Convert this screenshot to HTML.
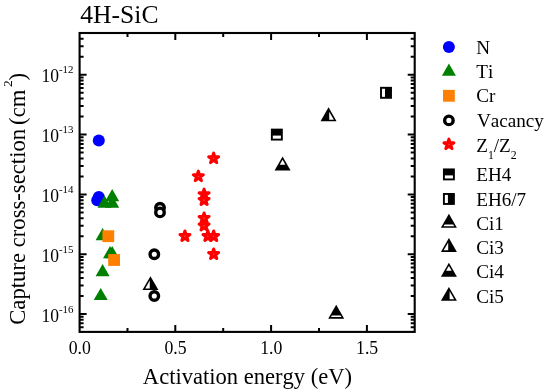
<!DOCTYPE html>
<html><head><meta charset="utf-8"><title>4H-SiC</title>
<style>
html,body{margin:0;padding:0;background:#fff;}
svg{display:block;font-family:"Liberation Serif","Times New Roman",serif;font-kerning:none;fill:#000;}
</style></head><body>
<svg width="550" height="392" viewBox="0 0 550 392">
<rect width="550" height="392" fill="#fff"/>
<rect x="79.6" y="33.0" width="335.1" height="298.9" fill="none" stroke="#000" stroke-width="2.1"/>
<path d="M127.5 331.9v-4M127.5 33.0v4M175.3 331.9v-7M175.3 33.0v7M223.2 331.9v-4M223.2 33.0v4M271.1 331.9v-7M271.1 33.0v7M319.0 331.9v-4M319.0 33.0v4M366.9 331.9v-7M366.9 33.0v7M79.6 327.3h4M414.7 327.3h-4M79.6 323.3h4M414.7 323.3h-4M79.6 319.8h4M414.7 319.8h-4M79.6 316.7h4M414.7 316.7h-4M79.6 314.0h7M414.7 314.0h-7M79.6 296.0h4M414.7 296.0h-4M79.6 285.5h4M414.7 285.5h-4M79.6 278.0h4M414.7 278.0h-4M79.6 272.2h4M414.7 272.2h-4M79.6 267.5h4M414.7 267.5h-4M79.6 263.5h4M414.7 263.5h-4M79.6 260.0h4M414.7 260.0h-4M79.6 256.9h4M414.7 256.9h-4M79.6 254.2h7M414.7 254.2h-7M79.6 236.2h4M414.7 236.2h-4M79.6 225.7h4M414.7 225.7h-4M79.6 218.2h4M414.7 218.2h-4M79.6 212.4h4M414.7 212.4h-4M79.6 207.7h4M414.7 207.7h-4M79.6 203.7h4M414.7 203.7h-4M79.6 200.2h4M414.7 200.2h-4M79.6 197.1h4M414.7 197.1h-4M79.6 194.4h7M414.7 194.4h-7M79.6 176.4h4M414.7 176.4h-4M79.6 165.9h4M414.7 165.9h-4M79.6 158.4h4M414.7 158.4h-4M79.6 152.6h4M414.7 152.6h-4M79.6 147.9h4M414.7 147.9h-4M79.6 143.9h4M414.7 143.9h-4M79.6 140.4h4M414.7 140.4h-4M79.6 137.3h4M414.7 137.3h-4M79.6 134.6h7M414.7 134.6h-7M79.6 116.6h4M414.7 116.6h-4M79.6 106.1h4M414.7 106.1h-4M79.6 98.6h4M414.7 98.6h-4M79.6 92.8h4M414.7 92.8h-4M79.6 88.1h4M414.7 88.1h-4M79.6 84.1h4M414.7 84.1h-4M79.6 80.6h4M414.7 80.6h-4M79.6 77.5h4M414.7 77.5h-4M79.6 74.8h7M414.7 74.8h-7M79.6 56.8h4M414.7 56.8h-4M79.6 46.3h4M414.7 46.3h-4M79.6 38.8h4M414.7 38.8h-4" stroke="#000" stroke-width="2" fill="none"/>
<text x="79.8" y="354" font-size="19.4" text-anchor="middle" textLength="22.2" lengthAdjust="spacingAndGlyphs">0.0</text>
<text x="175.5" y="354" font-size="19.4" text-anchor="middle" textLength="22.2" lengthAdjust="spacingAndGlyphs">0.5</text>
<text x="271.3" y="354" font-size="19.4" text-anchor="middle" textLength="22.2" lengthAdjust="spacingAndGlyphs">1.0</text>
<text x="367.1" y="354" font-size="19.4" text-anchor="middle" textLength="22.2" lengthAdjust="spacingAndGlyphs">1.5</text>
<text x="41.5" y="82.3" font-size="19.4" textLength="17.5" lengthAdjust="spacingAndGlyphs">10</text>
<text x="58.9" y="73.3" font-size="10.9">-12</text>
<text x="41.5" y="142.2" font-size="19.4" textLength="17.5" lengthAdjust="spacingAndGlyphs">10</text>
<text x="58.9" y="133.2" font-size="10.9">-13</text>
<text x="41.5" y="201.9" font-size="19.4" textLength="17.5" lengthAdjust="spacingAndGlyphs">10</text>
<text x="58.9" y="192.9" font-size="10.9">-14</text>
<text x="41.5" y="261.8" font-size="19.4" textLength="17.5" lengthAdjust="spacingAndGlyphs">10</text>
<text x="58.9" y="252.8" font-size="10.9">-15</text>
<text x="41.5" y="321.6" font-size="19.4" textLength="17.5" lengthAdjust="spacingAndGlyphs">10</text>
<text x="58.9" y="312.6" font-size="10.9">-16</text>
<text x="80.3" y="22.6" font-size="24.4" textLength="78.2" lengthAdjust="spacingAndGlyphs">4H-SiC</text>
<text x="247.4" y="383.6" font-size="22.55" text-anchor="middle">Activation energy (eV)</text>
<g transform="translate(24.7 199.3) rotate(-90)"><text x="-125.5" y="0" font-size="22.7">Capture cross-section</text>
<text x="74.4" y="0" font-size="22.7">(cm</text>
<text x="112.4" y="-12.5" font-size="13.5">2</text>
<text x="118.8" y="0" font-size="22.7">)</text>
</g>
<circle cx="98.8" cy="140.4" r="6" fill="#0000ff"/>
<circle cx="97.2" cy="200.2" r="6" fill="#0000ff"/>
<circle cx="98.8" cy="197.1" r="6" fill="#0000ff"/>
<path d="M112.2 189.0L119.2 201.2H105.2Z" fill="#008000"/>
<path d="M104.5 195.5L111.5 207.7H97.5Z" fill="#008000"/>
<path d="M112.2 195.5L119.2 207.7H105.2Z" fill="#008000"/>
<path d="M102.6 228.1L109.6 240.3H95.6Z" fill="#008000"/>
<path d="M110.0 246.1L117.0 258.3H103.0Z" fill="#008000"/>
<path d="M112.2 246.1L119.2 258.3H105.2Z" fill="#008000"/>
<path d="M102.6 264.1L109.6 276.3H95.6Z" fill="#008000"/>
<path d="M100.7 287.9L107.7 300.1H93.7Z" fill="#008000"/>
<rect x="102.4" y="230.3" width="11.8" height="11.8" fill="#ff8000"/>
<rect x="108.2" y="254.1" width="11.8" height="11.8" fill="#ff8000"/>
<path d="M150.45 276.20L158.45 290.10H142.45Z" fill="#000"/><path d="M149.75 280.62V288.50H145.22Z" fill="#fff"/>
<circle cx="160.0" cy="207.7" r="4.25" fill="#fff" stroke="#000" stroke-width="3.4"/>
<circle cx="160.0" cy="212.4" r="4.25" fill="#fff" stroke="#000" stroke-width="3.4"/>
<circle cx="154.3" cy="254.2" r="4.25" fill="#fff" stroke="#000" stroke-width="3.4"/>
<circle cx="154.3" cy="296.0" r="4.25" fill="#fff" stroke="#000" stroke-width="3.4"/>
<path d="M213.65 153.15L214.83 156.78L218.64 156.77L215.55 159.01L216.74 162.64L213.65 160.40L210.56 162.64L211.75 159.01L208.66 156.77L212.47 156.78Z" fill="#ff6060" stroke="#ff0000" stroke-width="3" stroke-linejoin="round"/>
<path d="M198.33 171.15L199.51 174.78L203.32 174.78L200.23 177.02L201.42 180.65L198.33 178.40L195.24 180.65L196.43 177.02L193.34 174.78L197.15 174.78Z" fill="#ff6060" stroke="#ff0000" stroke-width="3" stroke-linejoin="round"/>
<path d="M204.07 189.15L205.25 192.78L209.07 192.78L205.98 195.02L207.16 198.65L204.07 196.40L200.99 198.65L202.17 195.02L199.08 192.78L202.90 192.78Z" fill="#ff6060" stroke="#ff0000" stroke-width="3" stroke-linejoin="round"/>
<path d="M204.07 194.95L205.25 198.58L209.07 198.57L205.98 200.81L207.16 204.44L204.07 202.20L200.99 204.44L202.17 200.81L199.08 198.57L202.90 198.58Z" fill="#ff6060" stroke="#ff0000" stroke-width="3" stroke-linejoin="round"/>
<path d="M204.07 212.95L205.25 216.58L209.07 216.57L205.98 218.81L207.16 222.44L204.07 220.20L200.99 222.44L202.17 218.81L199.08 216.57L202.90 216.58Z" fill="#ff6060" stroke="#ff0000" stroke-width="3" stroke-linejoin="round"/>
<path d="M204.07 220.42L205.25 224.05L209.07 224.05L205.98 226.29L207.16 229.92L204.07 227.67L200.99 229.92L202.17 226.29L199.08 224.05L202.90 224.05Z" fill="#ff6060" stroke="#ff0000" stroke-width="3" stroke-linejoin="round"/>
<path d="M184.93 230.95L186.10 234.58L189.92 234.58L186.83 236.82L188.01 240.45L184.93 238.20L181.84 240.45L183.02 236.82L179.93 234.58L183.75 234.58Z" fill="#ff6060" stroke="#ff0000" stroke-width="3" stroke-linejoin="round"/>
<path d="M207.91 230.95L209.08 234.58L212.90 234.58L209.81 236.82L210.99 240.45L207.91 238.20L204.82 240.45L206.00 236.82L202.91 234.58L206.73 234.58Z" fill="#ff6060" stroke="#ff0000" stroke-width="3" stroke-linejoin="round"/>
<path d="M213.65 230.95L214.83 234.58L218.64 234.58L215.55 236.82L216.74 240.45L213.65 238.20L210.56 240.45L211.75 236.82L208.66 234.58L212.47 234.58Z" fill="#ff6060" stroke="#ff0000" stroke-width="3" stroke-linejoin="round"/>
<path d="M213.65 248.95L214.83 252.58L218.64 252.58L215.55 254.82L216.74 258.45L213.65 256.20L210.56 258.45L211.75 254.82L208.66 252.58L212.47 252.58Z" fill="#ff6060" stroke="#ff0000" stroke-width="3" stroke-linejoin="round"/>
<rect x="270.90" y="128.65" width="11.9" height="11.9" fill="#000"/><rect x="272.80" y="135.60" width="8.10" height="3.05" fill="#fff"/>
<rect x="380.05" y="86.85" width="11.9" height="11.9" fill="#000"/><rect x="381.95" y="88.75" width="3.05" height="8.10" fill="#fff"/>
<path d="M336.21 304.73L344.21 318.63H328.21Z" fill="#000"/><path d="M331.91 315.40H340.51L341.45 317.03H330.97Z" fill="#fff"/>
<path d="M282.59 156.60L290.59 170.50H274.59Z" fill="#000"/><path d="M282.59 159.80L285.39 164.67H279.79Z" fill="#fff"/>
<path d="M328.55 107.33L336.55 121.23H320.55Z" fill="#000"/><path d="M329.25 111.75V119.63H333.79Z" fill="#fff"/>
<circle cx="448.9" cy="47.0" r="6" fill="#0000ff"/>
<path d="M448.9 63.6L455.9 75.8H441.9Z" fill="#008000"/>
<rect x="443.0" y="89.9" width="11.8" height="11.8" fill="#ff8000"/>
<circle cx="448.9" cy="120.4" r="4.25" fill="#fff" stroke="#000" stroke-width="3.4"/>
<path d="M448.90 139.15L450.08 142.78L453.89 142.78L450.80 145.02L451.99 148.65L448.90 146.40L445.81 148.65L447.00 145.02L443.91 142.78L447.72 142.78Z" fill="#ff6060" stroke="#ff0000" stroke-width="3" stroke-linejoin="round"/>
<rect x="442.95" y="168.45" width="11.9" height="11.9" fill="#000"/><rect x="444.85" y="175.40" width="8.10" height="3.05" fill="#fff"/>
<rect x="442.95" y="193.00" width="11.9" height="11.9" fill="#000"/><rect x="444.85" y="194.90" width="3.05" height="8.10" fill="#fff"/>
<path d="M448.90 213.83L456.90 227.73H440.90Z" fill="#000"/><path d="M444.60 224.50H453.20L454.14 226.13H443.66Z" fill="#fff"/>
<path d="M448.90 238.03L456.90 251.93H440.90Z" fill="#000"/><path d="M448.20 242.45V250.33H443.66Z" fill="#fff"/>
<path d="M448.90 262.73L456.90 276.63H440.90Z" fill="#000"/><path d="M448.90 265.93L451.70 270.80H446.10Z" fill="#fff"/>
<path d="M448.90 286.93L456.90 300.83H440.90Z" fill="#000"/><path d="M449.60 291.35V299.23H454.14Z" fill="#fff"/>
<text x="476.2" y="53.5" font-size="19.15">N</text>
<text x="476.2" y="78.0" font-size="19.15">Ti</text>
<text x="476.2" y="102.4" font-size="19.15">Cr</text>
<text x="476.9" y="126.6" font-size="19.15">Vacancy</text>
<text x="476.2" y="152.1" font-size="19.15">Z<tspan font-size="11.8" dy="6.5">1</tspan><tspan dy="-6.5">/Z</tspan><tspan font-size="11.8" dy="6.5">2</tspan></text>
<text x="476.2" y="181.0" font-size="19.15">EH4</text>
<text x="476.2" y="205.5" font-size="19.15">EH6/7</text>
<text x="476.2" y="229.6" font-size="19.15">Ci1</text>
<text x="476.2" y="253.9" font-size="19.15">Ci3</text>
<text x="476.2" y="278.2" font-size="19.15">Ci4</text>
<text x="476.2" y="302.6" font-size="19.15">Ci5</text>
</svg>
</body></html>
